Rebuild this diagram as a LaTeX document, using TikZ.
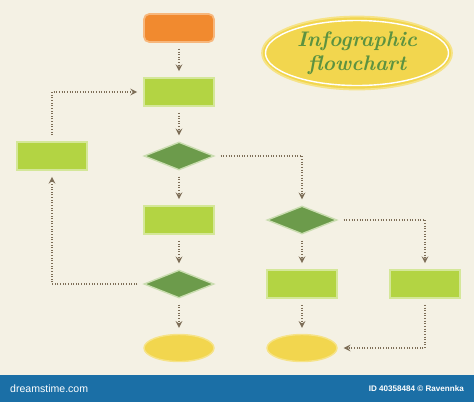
\documentclass[tikz,border=0pt]{standalone}
\usepackage{fontspec}
\setsansfont{Liberation Sans}
\usepackage{tikz}
\usetikzlibrary{positioning, shapes.geometric, arrows}
\definecolor{paper}{HTML}{F4F1E4}
\definecolor{lime}{HTML}{B3D443}
\definecolor{limeedge}{HTML}{D4E799}
\definecolor{leaf}{HTML}{6C9B4B}
\definecolor{leafedge}{HTML}{CADDB0}
\definecolor{carrot}{HTML}{F18A2F}
\definecolor{carrotedge}{HTML}{F7B77C}
\definecolor{sun}{HTML}{F2D64E}
\definecolor{sunedge}{HTML}{F6E387}
\definecolor{mud}{HTML}{7D6E57}
\definecolor{titlegreen}{HTML}{5C9240}
\definecolor{footerblue}{HTML}{1B6FA6}
\tikzstyle{startbox} = [rectangle, rounded corners=3pt,
minimum width=1.4cm,
minimum height=0.56cm,
draw=carrotedge, line width=1pt,
fill=carrot]
\tikzstyle{process} = [rectangle,
minimum width=1.4cm,
minimum height=0.56cm,
draw=limeedge, line width=1pt,
fill=lime]
\tikzstyle{decision} = [diamond,
minimum width=1.4cm,
minimum height=0.56cm,
inner sep=0pt,
draw=leafedge, line width=0.8pt,
fill=leaf]
\tikzstyle{terminal} = [ellipse,
minimum width=1.4cm,
minimum height=0.54cm,
draw=sunedge, line width=0.8pt,
fill=sun]
\tikzstyle{arrow} = [mud, line width=0.7pt, dash pattern=on 0.5pt off 1pt, ->, >=stealth,
shorten <=0.12cm, shorten >=0.12cm]

\begin{document}
\begin{tikzpicture}[node distance=1.28cm]
        \useasboundingbox (-3.58,0.56) rectangle (5.9,-7.48);
        \fill[paper] (-3.58,0.56) rectangle (5.9,-7.48);

        \node (start) [startbox] {};
        \node (pro1) [process, below of=start] {};
        \node (dec1) [decision, below of=pro1] {};
        \node (side) [process, left of=dec1, xshift=-1.26cm] {};
        \node (pro2) [process, below of=dec1] {};
        \node (dec2) [decision, right of=pro2, xshift=1.18cm] {};
        \node (dec3) [decision, below of=pro2] {};
        \node (end1) [terminal, below of=dec3] {};
        \node (pro3) [process, below of=dec2] {};
        \node (pro4) [process, right of=pro3, xshift=1.18cm] {};
        \node (end2) [terminal, below of=pro3] {};

        % title badge
        \node (title) [ellipse, fill=sun, draw=sunedge, line width=1pt,
            minimum width=3.8cm, minimum height=1.46cm] at (3.56,-0.5) {};
        \draw[white, line width=0.8pt] (title.center) ellipse (1.83cm and 0.65cm);
        \node (titletext) [align=center, text=titlegreen, font=\fontsize{12}{13.6}\selectfont\bfseries\itshape]
            at (title.center) {Infographic\\flowchart};

        \draw [arrow] (start) -- (pro1);
        \draw [arrow] (pro1) -- (dec1);
        \draw [arrow] (dec1) -- (pro2);
        \draw [arrow] (pro2) -- (dec3);
        \draw [arrow] (dec3) -- (end1);
        \draw [arrow] (dec1.east) -| (dec2.north);
        \draw [arrow] (dec2) -- (pro3);
        \draw [arrow] (pro3) -- (end2);
        \draw [arrow] (dec2.east) -| (pro4.north);
        \draw [arrow] (pro4.south) |- (end2.east);
        \draw [arrow] (dec3.west) -| (side.south);
        \draw [arrow] (side.north) |- (pro1.west);

        % footer bar
        \fill[footerblue] (-3.58,-6.94) rectangle (5.9,-7.48);
        \node (logo) [anchor=west, text=white, font=\sffamily\fontsize{6}{7}\selectfont]
            at (-3.5,-7.21) {dreamstime.com};
        \node (credit) [anchor=east, text=white, font=\sffamily\bfseries\fontsize{4.6}{5}\selectfont]
            at (5.82,-7.21) {ID 40358484 \textcopyright\ Ravennka};
    \end{tikzpicture}
\end{document}
